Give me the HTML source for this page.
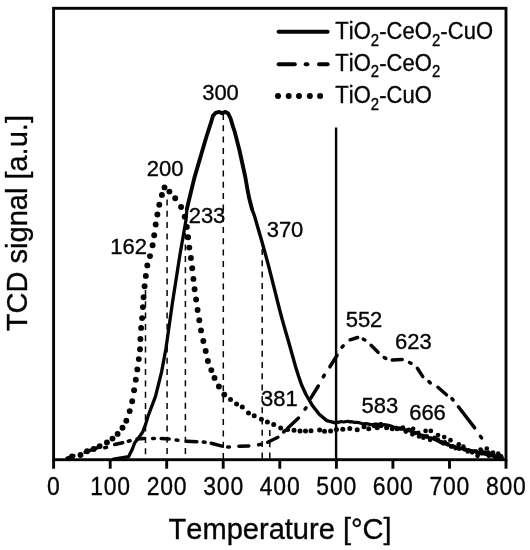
<!DOCTYPE html>
<html><head><meta charset="utf-8"><title>TCD signal vs Temperature</title>
<style>
html,body{margin:0;padding:0;background:#fff;}
svg{display:block}
text{font-family:"Liberation Sans",Arial,Helvetica,sans-serif;fill:#050505;stroke:#050505;stroke-width:0.35px;font-kerning:none;}
</style></head><body>
<svg width="530" height="550" viewBox="0 0 530 550">
<rect x="0" y="0" width="530" height="550" fill="#fff"/>

<line x1="145.5" y1="290" x2="145.5" y2="459.7" stroke="#050505" stroke-width="1.5" stroke-dasharray="6 5.3"/>
<line x1="167.1" y1="199.5" x2="167.1" y2="459.7" stroke="#050505" stroke-width="1.5" stroke-dasharray="6 5.3"/>
<line x1="185.4" y1="222" x2="185.4" y2="459.7" stroke="#050505" stroke-width="1.5" stroke-dasharray="6 5.3"/>
<line x1="223.3" y1="114" x2="223.3" y2="459.7" stroke="#050505" stroke-width="1.5" stroke-dasharray="6 5.3"/>
<line x1="262.2" y1="249" x2="262.2" y2="459.7" stroke="#050505" stroke-width="1.5" stroke-dasharray="6 5.3"/>
<line x1="269.8" y1="430" x2="269.8" y2="459.7" stroke="#050505" stroke-width="1.5" stroke-dasharray="6 5.3"/>
<line x1="336.1" y1="127.5" x2="336.1" y2="459.7" stroke="#050505" stroke-width="2.4"/>
<g stroke="#050505" stroke-width="3.5" stroke-linecap="round" fill="none">
<line x1="67.1" y1="458.1" x2="73.9" y2="455.9"/>
<line x1="85.1" y1="452.1" x2="99.9" y2="446.9"/>
<line x1="114.7" y1="444.5" x2="122.7" y2="442.7"/>
<line x1="137.0" y1="438.9" x2="144.5" y2="438.6"/>
<line x1="161.2" y1="438.6" x2="169.2" y2="438.9"/>
<line x1="186.1" y1="441.2" x2="196.9" y2="441.7"/>
<line x1="211.2" y1="443.3" x2="222.0" y2="446.1"/>
<line x1="238.9" y1="446.3" x2="248.8" y2="445.9"/>
<line x1="267.7" y1="442.3" x2="277.9" y2="437.3"/>
<line x1="288.1" y1="427.7" x2="298.5" y2="418.0"/>
<line x1="310.8" y1="398.2" x2="318.3" y2="386.0"/>
<line x1="329.9" y1="366.8" x2="337.1" y2="355.3"/>
<line x1="350.1" y1="339.8" x2="357.6" y2="337.5"/>
<line x1="371.1" y1="345.3" x2="378.1" y2="352.3"/>
<line x1="392.3" y1="360.1" x2="402.2" y2="359.5"/>
<line x1="417.4" y1="368.3" x2="422.8" y2="376.6"/>
<line x1="437.9" y1="387.3" x2="446.5" y2="394.8"/>
<line x1="458.4" y1="406.8" x2="474.7" y2="427.9"/>
<line x1="104.7" y1="447.7" x2="106.5" y2="447.3"/>
<line x1="128.3" y1="441.2" x2="130.1" y2="440.8"/>
<line x1="152.6" y1="438.4" x2="154.4" y2="438.4"/>
<line x1="176.1" y1="440.1" x2="177.9" y2="440.3"/>
<line x1="203.3" y1="442.1" x2="205.1" y2="442.3"/>
<line x1="227.6" y1="447.0" x2="229.4" y2="447.0"/>
<line x1="258.6" y1="444.8" x2="260.4" y2="444.4"/>
<line x1="283.6" y1="431.9" x2="285.0" y2="430.7"/>
<line x1="305.0" y1="409.2" x2="306.0" y2="407.8"/>
<line x1="323.3" y1="376.8" x2="324.3" y2="375.2"/>
<line x1="342.0" y1="347.2" x2="343.2" y2="345.8"/>
<line x1="363.3" y1="339.2" x2="364.9" y2="340.0"/>
<line x1="384.2" y1="357.6" x2="385.8" y2="358.4"/>
<line x1="409.5" y1="362.5" x2="411.1" y2="363.3"/>
<line x1="428.9" y1="381.7" x2="430.3" y2="382.9"/>
<line x1="451.9" y1="398.6" x2="453.1" y2="400.0"/>
<line x1="480.4" y1="436.4" x2="481.6" y2="437.8"/>
</g>
<path d="M113.5,459.2 L128.6,456.7 L132.4,449.0 L134.6,443.0 L138.0,438.6 L142.7,432.0 L145.6,424.4 L148.1,416.0 L155.5,396.4 L161.6,371.9 L165.9,348.8 L172.4,303.0 L179.9,255.0 L186.0,220.0 L186.9,208.8" fill="none" stroke="#050505" stroke-width="3.3" stroke-linejoin="round" stroke-linecap="round"/>
<path d="M186.9,208.8 L194.3,178.1 L203.6,146.2 L206.8,135.5 L210.9,122.9 L213.0,115.8 L215.5,112.9 L219.3,111.9 L222.2,113.3 L225.0,111.9 L228.0,113.2 L230.6,118.5 L233.0,126.6 L234.8,132.0 L239.5,150.5 L245.2,176.5 L247.2,188.0 L249.2,198.3 L251.9,208.8" fill="none" stroke="#050505" stroke-width="3.9" stroke-linejoin="round" stroke-linecap="round"/>
<path d="M251.9,208.8 L254.5,216.0 L261.9,241.5 L268.0,263.6 L274.2,288.1 L279.3,308.5 L282.0,318.8 L284.4,327.2 L289.3,344.3 L295.5,366.4 L298.5,376.0 L301.6,385.0 L306.0,394.5 L312.6,405.8 L319.2,414.3 L326.8,420.6 L334.5,422.7" fill="none" stroke="#050505" stroke-width="3.4" stroke-linejoin="round" stroke-linecap="round"/>
<path d="M334.5,422.5 L336.7,422.0 L338.9,422.3 L341.1,421.5 L343.3,422.0 L345.5,421.7 L347.7,421.3 L349.9,421.9 L352.1,421.7 L354.3,422.4 L356.5,422.3 L358.7,422.6 L360.9,423.3 L363.1,424.0 L365.3,423.5 L367.5,423.9 L369.7,424.4 L371.9,424.7 L374.1,424.2 L376.3,424.0 L378.5,424.6 L380.7,423.5 L382.9,424.8 L385.1,424.7 L387.3,425.1 L389.5,425.6 L391.7,426.3 L393.9,427.4 L396.1,427.3 L398.3,428.2 L400.5,428.8 L402.7,429.1 L404.9,429.8 L407.1,429.9 L409.3,430.7 L411.5,431.5 L413.7,432.8 L415.9,433.2 L418.1,433.8 L420.3,434.8 L422.5,435.3 L424.7,435.8 L426.9,437.0 L429.1,437.5 L431.3,437.8 L433.5,439.0 L435.7,439.9 L437.9,441.1 L440.1,441.9 L442.3,442.2 L444.5,443.8 L446.7,443.7 L448.9,444.9 L451.1,446.1 L453.3,446.0 L455.5,446.9 L457.7,447.0 L459.9,448.2 L462.1,448.8 L464.3,449.1 L466.5,449.8 L468.7,449.7 L470.9,450.5 L473.1,450.9 L475.3,451.6 L477.5,452.1 L479.7,453.2 L481.9,454.0 L484.1,454.0 L486.3,454.6 L488.5,454.4 L490.7,455.6 L492.9,455.9 L495.1,456.9 L497.3,457.3 L499.5,457.3 L501.7,457.9 L503.4,458.5" fill="none" stroke="#050505" stroke-width="3.2" stroke-linejoin="round"/>
<g fill="#050505">
<circle cx="72" cy="456.5" r="2.95"/>
<circle cx="80.5" cy="455" r="2.95"/>
<circle cx="87.1" cy="451.2" r="2.95"/>
<circle cx="93.7" cy="449" r="2.95"/>
<circle cx="99.7" cy="446.1" r="2.95"/>
<circle cx="106.9" cy="442.4" r="2.95"/>
<circle cx="112.5" cy="438.6" r="2.95"/>
<circle cx="117.6" cy="433.9" r="2.95"/>
<circle cx="122.5" cy="427.8" r="2.95"/>
<circle cx="126.3" cy="420.7" r="2.95"/>
<circle cx="129.7" cy="411.1" r="2.95"/>
<circle cx="132.2" cy="401.3" r="2.95"/>
<circle cx="134.1" cy="390.3" r="2.95"/>
<circle cx="135.8" cy="379.7" r="2.95"/>
<circle cx="137.3" cy="369.4" r="2.95"/>
<circle cx="138.8" cy="359.1" r="2.95"/>
<circle cx="140.0" cy="349.3" r="2.95"/>
<circle cx="140.4" cy="339" r="2.95"/>
<circle cx="141.1" cy="327.9" r="2.95"/>
<circle cx="142.1" cy="318.1" r="2.95"/>
<circle cx="142.9" cy="307.1" r="2.95"/>
<circle cx="143.6" cy="297.3" r="2.95"/>
<circle cx="144.6" cy="286.2" r="2.95"/>
<circle cx="145.8" cy="275.9" r="2.95"/>
<circle cx="147.3" cy="265.4" r="2.95"/>
<circle cx="150" cy="256.1" r="2.95"/>
<circle cx="152.6" cy="245.2" r="2.95"/>
<circle cx="154.2" cy="235.2" r="2.95"/>
<circle cx="155.7" cy="224.5" r="2.95"/>
<circle cx="157.4" cy="214.5" r="2.95"/>
<circle cx="159.3" cy="204.7" r="2.95"/>
<circle cx="161.9" cy="194.9" r="2.95"/>
<circle cx="164.5" cy="187.4" r="2.95"/>
<circle cx="169.4" cy="191.6" r="2.95"/>
<circle cx="175.2" cy="198.2" r="2.95"/>
<circle cx="181.1" cy="207" r="2.95"/>
<circle cx="184.7" cy="216.8" r="2.95"/>
<circle cx="186.8" cy="227" r="2.95"/>
<circle cx="188.1" cy="237.2" r="2.95"/>
<circle cx="189.3" cy="247.6" r="2.95"/>
<circle cx="190.9" cy="258" r="2.95"/>
<circle cx="192.2" cy="268.3" r="2.95"/>
<circle cx="193.4" cy="278.9" r="2.95"/>
<circle cx="194.6" cy="289.2" r="2.95"/>
<circle cx="196.1" cy="299.5" r="2.95"/>
<circle cx="197.6" cy="310" r="2.95"/>
<circle cx="199.3" cy="320.2" r="2.95"/>
<circle cx="201" cy="330.4" r="2.95"/>
<circle cx="203.3" cy="341" r="2.95"/>
<circle cx="205.7" cy="351" r="2.95"/>
<circle cx="207.9" cy="361" r="2.95"/>
<circle cx="211.3" cy="370.1" r="2.95"/>
<circle cx="214.5" cy="377.9" r="2.95"/>
<circle cx="218.9" cy="386.5" r="2.95"/>
<circle cx="224.3" cy="394.6" r="2.95"/>
<circle cx="230.5" cy="399.5" r="2.5"/>
<circle cx="236.6" cy="403.9" r="2.5"/>
<circle cx="242.3" cy="407.1" r="2.5"/>
<circle cx="248.5" cy="413" r="2.5"/>
<circle cx="254.2" cy="415.7" r="2.5"/>
<circle cx="261.4" cy="419.3" r="2.5"/>
<circle cx="267.4" cy="422.1" r="2.5"/>
<circle cx="273.7" cy="424.4" r="2.5"/>
<circle cx="280.7" cy="427.9" r="2.5"/>
<circle cx="287.6" cy="429.4" r="2.5"/>
<circle cx="294" cy="430.3" r="2.5"/>
<circle cx="300" cy="431" r="2.5"/>
<circle cx="305.5" cy="431" r="2.5"/>
<circle cx="311" cy="430.8" r="2.5"/>
<circle cx="319.6" cy="430" r="2.5"/>
<circle cx="324.5" cy="431.3" r="2.5"/>
<circle cx="330.6" cy="431" r="2.5"/>
<circle cx="336.4" cy="429.6" r="2.5"/>
<circle cx="342.8" cy="429.2" r="2.5"/>
<circle cx="349.8" cy="428.5" r="2.5"/>
<circle cx="357.2" cy="429.8" r="2.5"/>
<circle cx="364" cy="426.8" r="2.5"/>
<circle cx="368.7" cy="428.7" r="2.5"/>
<circle cx="374.3" cy="425.8" r="2.5"/>
<circle cx="377.2" cy="427.7" r="2.5"/>
<circle cx="380.9" cy="425.8" r="2.5"/>
<circle cx="386.6" cy="427.7" r="2.5"/>
<circle cx="392.3" cy="428.7" r="2.5"/>
<circle cx="397" cy="428.9" r="2.35"/>
<circle cx="399.8" cy="428.5" r="2.35"/>
<circle cx="402.9" cy="427.5" r="2.35"/>
<circle cx="405.8" cy="431.6" r="2.35"/>
<circle cx="408.9" cy="429.9" r="2.35"/>
<circle cx="412.4" cy="434.3" r="2.35"/>
<circle cx="415.3" cy="433.0" r="2.35"/>
<circle cx="419.1" cy="436.5" r="2.35"/>
<circle cx="423.4" cy="437.7" r="2.35"/>
<circle cx="426.7" cy="436.3" r="2.35"/>
<circle cx="430.1" cy="439.8" r="2.35"/>
<circle cx="434.7" cy="437.8" r="2.35"/>
<circle cx="437.8" cy="439.5" r="2.35"/>
<circle cx="441.0" cy="442.1" r="2.35"/>
<circle cx="444.9" cy="442.4" r="2.35"/>
<circle cx="447.7" cy="444.3" r="2.35"/>
<circle cx="451.1" cy="446.4" r="2.35"/>
<circle cx="455.7" cy="448.2" r="2.35"/>
<circle cx="459.4" cy="448.7" r="2.35"/>
<circle cx="463.4" cy="446.7" r="2.35"/>
<circle cx="467.8" cy="451.4" r="2.35"/>
<circle cx="472.2" cy="452.3" r="2.35"/>
<circle cx="475.7" cy="451.3" r="2.35"/>
<circle cx="478.7" cy="453.4" r="2.35"/>
<circle cx="481.6" cy="451.3" r="2.35"/>
<circle cx="484.8" cy="452.6" r="2.35"/>
<circle cx="488.2" cy="452.7" r="2.35"/>
<circle cx="491.0" cy="453.8" r="2.35"/>
<circle cx="494.0" cy="455.5" r="2.35"/>
<circle cx="496.8" cy="457.3" r="2.35"/>
<circle cx="500.7" cy="456.2" r="2.35"/>
<circle cx="413.1" cy="428.8" r="2.35"/>
<circle cx="418.3" cy="432.9" r="2.35"/>
<circle cx="425.6" cy="430.9" r="2.35"/>
<circle cx="430.8" cy="430.9" r="2.35"/>
<circle cx="438" cy="435" r="2.35"/>
<circle cx="444.2" cy="437.1" r="2.35"/>
<circle cx="450.5" cy="440.2" r="2.35"/>
<circle cx="443.2" cy="443.3" r="2.35"/>
<circle cx="452.5" cy="446.4" r="2.35"/>
<circle cx="458.8" cy="444.3" r="2.35"/>
<circle cx="465" cy="449.5" r="2.35"/>
<circle cx="472.3" cy="451.6" r="2.35"/>
<circle cx="477.5" cy="455.8" r="2.35"/>
<circle cx="480.6" cy="449.5" r="2.35"/>
<circle cx="486.8" cy="448.5" r="2.35"/>
<circle cx="488.9" cy="455.8" r="2.35"/>
<circle cx="493" cy="452.6" r="2.35"/>
<circle cx="498.2" cy="453.7" r="2.35"/>
<circle cx="495.1" cy="456.8" r="2.35"/>
<circle cx="501.3" cy="457.2" r="2.35"/>
</g>
<rect x="53.6" y="8.3" width="452.4" height="451.4" fill="none" stroke="#050505" stroke-width="2.9"/>
<line x1="53.6" y1="459.7" x2="53.6" y2="468.7" stroke="#050505" stroke-width="2.9"/>
<g transform="translate(53.9,494.6) scale(0.9,1)"><text text-anchor="middle" font-size="25.5" letter-spacing="0.9">0</text></g>
<line x1="110.2" y1="459.7" x2="110.2" y2="468.7" stroke="#050505" stroke-width="2.9"/>
<g transform="translate(110.5,494.6) scale(0.9,1)"><text text-anchor="middle" font-size="25.5" letter-spacing="0.9">100</text></g>
<line x1="166.7" y1="459.7" x2="166.7" y2="468.7" stroke="#050505" stroke-width="2.9"/>
<g transform="translate(167.0,494.6) scale(0.9,1)"><text text-anchor="middle" font-size="25.5" letter-spacing="0.9">200</text></g>
<line x1="223.2" y1="459.7" x2="223.2" y2="468.7" stroke="#050505" stroke-width="2.9"/>
<g transform="translate(223.6,494.6) scale(0.9,1)"><text text-anchor="middle" font-size="25.5" letter-spacing="0.9">300</text></g>
<line x1="279.8" y1="459.7" x2="279.8" y2="468.7" stroke="#050505" stroke-width="2.9"/>
<g transform="translate(280.1,494.6) scale(0.9,1)"><text text-anchor="middle" font-size="25.5" letter-spacing="0.9">400</text></g>
<line x1="336.4" y1="459.7" x2="336.4" y2="468.7" stroke="#050505" stroke-width="2.9"/>
<g transform="translate(336.7,494.6) scale(0.9,1)"><text text-anchor="middle" font-size="25.5" letter-spacing="0.9">500</text></g>
<line x1="392.9" y1="459.7" x2="392.9" y2="468.7" stroke="#050505" stroke-width="2.9"/>
<g transform="translate(393.2,494.6) scale(0.9,1)"><text text-anchor="middle" font-size="25.5" letter-spacing="0.9">600</text></g>
<line x1="449.5" y1="459.7" x2="449.5" y2="468.7" stroke="#050505" stroke-width="2.9"/>
<g transform="translate(449.8,494.6) scale(0.9,1)"><text text-anchor="middle" font-size="25.5" letter-spacing="0.9">700</text></g>
<line x1="506.0" y1="459.7" x2="506.0" y2="468.7" stroke="#050505" stroke-width="2.9"/>
<g transform="translate(506.3,494.6) scale(0.9,1)"><text text-anchor="middle" font-size="25.5" letter-spacing="0.9">800</text></g>
<g transform="translate(280.1,538.9) scale(0.969,1)"><text text-anchor="middle" font-size="30">Temperature [°C]</text></g>
<g transform="translate(27.0,223.1) rotate(-90) scale(1.001,1)"><text text-anchor="middle" font-size="29">TCD signal [a.u.]</text></g>
<g transform="translate(220.5,99.6) scale(1.0,1)"><text text-anchor="middle" font-size="22">300</text></g>
<g transform="translate(165.2,175.8) scale(1.0,1)"><text text-anchor="middle" font-size="22">200</text></g>
<g transform="translate(128.6,254.2) scale(1.0,1)"><text text-anchor="middle" font-size="22">162</text></g>
<g transform="translate(207.0,222.8) scale(1.0,1)"><text text-anchor="middle" font-size="22">233</text></g>
<g transform="translate(285.0,236.6) scale(1.0,1)"><text text-anchor="middle" font-size="22">370</text></g>
<g transform="translate(279.3,406.0) scale(1.0,1)"><text text-anchor="middle" font-size="22">381</text></g>
<g transform="translate(364.0,326.5) scale(1.0,1)"><text text-anchor="middle" font-size="22">552</text></g>
<g transform="translate(413.4,348.9) scale(1.0,1)"><text text-anchor="middle" font-size="22">623</text></g>
<g transform="translate(379.8,413.2) scale(1.0,1)"><text text-anchor="middle" font-size="22">583</text></g>
<g transform="translate(427.5,420.0) scale(1.0,1)"><text text-anchor="middle" font-size="22">666</text></g>
<line x1="278.6" y1="31.8" x2="327.6" y2="31.8" stroke="#050505" stroke-width="4" stroke-linecap="round"/>
<g stroke="#050505" stroke-width="4" stroke-linecap="round"><line x1="278.6" y1="64.3" x2="294.8" y2="64.3"/><line x1="305.7" y1="64.3" x2="307.4" y2="64.3"/><line x1="319" y1="64.3" x2="327.6" y2="64.3"/></g>
<g fill="#050505"><circle cx="278" cy="96.1" r="3"/><circle cx="288.7" cy="96.1" r="3"/><circle cx="299" cy="96.1" r="3"/><circle cx="309.8" cy="96.1" r="3"/><circle cx="320.1" cy="96.1" r="3"/></g>
<g transform="translate(335.2,39.199999999999996) scale(0.945,1)"><text font-size="23.2" letter-spacing="0.1">TiO<tspan font-size="15.8" dy="6.8">2</tspan><tspan dy="-6.8">-CeO</tspan><tspan font-size="15.8" dy="6.8">2</tspan><tspan dy="-6.8">-CuO</tspan></text></g>
<g transform="translate(335.2,70.60000000000001) scale(0.945,1)"><text font-size="23.2" letter-spacing="0.1">TiO<tspan font-size="15.8" dy="6.8">2</tspan><tspan dy="-6.8">-CeO</tspan><tspan font-size="15.8" dy="6.8">2</tspan></text></g>
<g transform="translate(335.2,102.80000000000001) scale(0.945,1)"><text font-size="23.2" letter-spacing="0.1">TiO<tspan font-size="15.8" dy="6.8">2</tspan><tspan dy="-6.8">-CuO</tspan></text></g>
</svg></body></html>
